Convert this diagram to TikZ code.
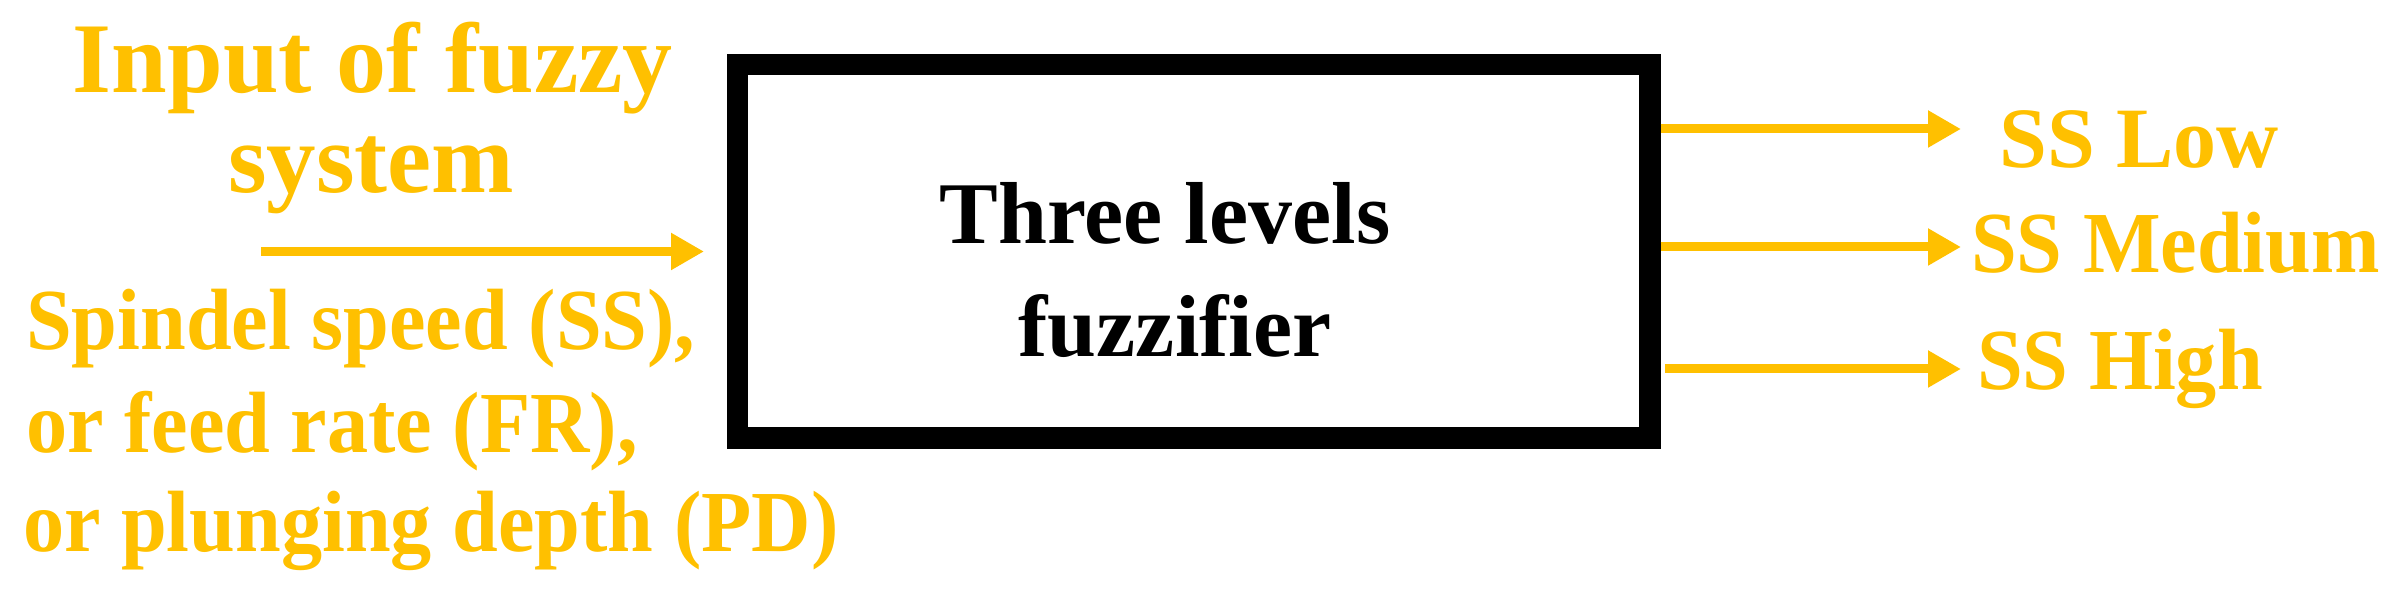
\documentclass[tikz,border=0pt]{standalone}
\usepackage{fontspec}
\setmainfont{Liberation Serif}
\newfontfamily\condfont[FakeStretch=0.945]{Liberation Serif}
\usetikzlibrary{arrows.meta}
\definecolor{amber}{HTML}{FFC000}
\tikzset{
  x=1pt, y=1pt,
  lbl/.style={inner sep=0pt, anchor=base, text=amber, font=\bfseries},
  lbll/.style={lbl, anchor=base west},
  flow/.style={draw=amber, line width=9pt, -{Triangle[length=33pt,width=35pt]}},
  boxst/.style={draw=black, line width=21.5pt, miter limit=10}
}
\begin{document}
\begin{tikzpicture}
\useasboundingbox (0,0) rectangle (2398,593);
% central box
\coordinate (bl) at (737.5,155);
\coordinate (tr) at (1650,528.3);
\draw[boxst] (bl) rectangle (tr);
\node[lbl, text=black, font=\bfseries\fontsize{88}{100}\selectfont] (t1) at (1165,349) {Three levels};
\node[lbl, text=black, font=\bfseries\fontsize{88}{100}\selectfont] (t2) at (1175,236) {fuzzifier};
% input title
\node[lbl, font=\bfseries\fontsize{100}{110}\selectfont] (in1) at (373,500) {Input of fuzzy};
\node[lbl, font=\bfseries\fontsize{99}{110}\selectfont] (in2) at (371,400) {system};
% input arrow
\coordinate (ina) at (261,341.5);
\coordinate (inb) at (704,341.5);
\draw[flow] (ina) -- (inb);
% input description
\node[lbll, font=\condfont\bfseries\fontsize{87}{100}\selectfont] (d1) at (26,243) {Spindel speed (SS),};
\node[lbll, font=\condfont\bfseries\fontsize{87}{100}\selectfont] (d2) at (26,140) {or feed rate (FR),};
\node[lbll, font=\condfont\bfseries\fontsize{87}{100}\selectfont] (d3) at (23,41) {or plunging depth (PD)};
% outputs
\coordinate (o1a) at (1660.5,464);
\coordinate (o1b) at (1961,464);
\coordinate (o2a) at (1660.5,346);
\coordinate (o2b) at (1961,346);
\coordinate (o3a) at (1665,224);
\coordinate (o3b) at (1961,224);
\draw[flow] (o1a) -- (o1b);
\draw[flow] (o2a) -- (o2b);
\draw[flow] (o3a) -- (o3b);
\node[lbll, font=\bfseries\fontsize{86}{100}\selectfont] (r1) at (1999,425) {SS Low};
\node[lbll, font=\condfont\bfseries\fontsize{87}{100}\selectfont] (r2) at (1971,320) {SS Medium};
\node[lbll, font=\condfont\bfseries\fontsize{87}{100}\selectfont] (r3) at (1977,203) {SS High};
\end{tikzpicture}
\end{document}
